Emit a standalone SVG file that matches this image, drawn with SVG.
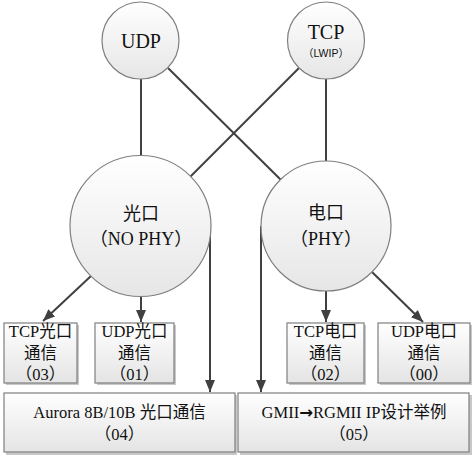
<svg xmlns="http://www.w3.org/2000/svg" width="474" height="457" viewBox="0 0 474 457">
<defs>
<linearGradient id="gc" x1="0" y1="0" x2="0" y2="1">
<stop offset="0" stop-color="#ffffff"/>
<stop offset="1" stop-color="#e6e6e6"/>
</linearGradient>
<linearGradient id="gb" x1="0" y1="0" x2="0" y2="1">
<stop offset="0" stop-color="#ffffff"/>
<stop offset="1" stop-color="#e4e4e4"/>
</linearGradient>
<marker id="ah" viewBox="0 0 12 10" refX="12" refY="5" markerWidth="12" markerHeight="10" markerUnits="userSpaceOnUse" orient="auto">
<path d="M0,0 L12,5 L0,10 Z" fill="#404040"/>
</marker>
</defs>
<style>
.c{fill:url(#gc);stroke:#7f7f7f;stroke-width:1.2}
.b{fill:url(#gb);stroke:#7f7f7f;stroke-width:1.2}
.sh{fill:#c8c8c8}
.l{fill:none;stroke:#404040;stroke-width:2}
.a{fill:none;stroke:#404040;stroke-width:2;marker-end:url(#ah)}
text{font-family:"Liberation Serif","Noto Sans CJK SC",serif;fill:#111;text-anchor:middle}
.r{font-family:"Liberation Serif",serif}
.k{font-family:"Noto Sans CJK SC",sans-serif}
.ar{font-family:"DejaVu Sans",sans-serif;font-weight:bold}
.big{font-size:20px}
.mid{font-size:18px}
.sm{font-size:16.5px}
.lw{font-family:"Liberation Sans","Noto Sans CJK SC",sans-serif;font-size:10.5px}
</style>
<rect width="474" height="457" fill="#ffffff"/>
<g id="connectors">
<line class="l" x1="141" y1="79" x2="141" y2="156"/>
<line class="l" x1="326" y1="79" x2="326" y2="161"/>
<line class="l" x1="168" y1="68" x2="281" y2="180"/>
<line class="l" x1="299" y1="68" x2="190" y2="177"/>
<line class="a" x1="91" y1="276" x2="43" y2="321"/>
<line class="a" x1="141" y1="296" x2="141" y2="322"/>
<line class="a" x1="210" y1="226" x2="210" y2="392"/>
<line class="a" x1="261" y1="226" x2="261" y2="392"/>
<line class="a" x1="326" y1="291" x2="326" y2="322"/>
<line class="a" x1="372" y1="272" x2="423" y2="322"/>
</g>
<g id="udp">
<circle class="c" cx="140.5" cy="40.5" r="38.5"/>
<text class="big" x="141" y="48">UDP</text>
</g>
<g id="tcp">
<circle class="c" cx="326" cy="40.5" r="38.5"/>
<text class="big" x="326" y="39">TCP</text>
<text class="lw" x="326" y="57"><tspan class="k">（</tspan>LWIP<tspan class="k">）</tspan></text>
</g>
<g id="optical">
<circle class="c" cx="140.5" cy="226" r="70.5"/>
<text class="mid" x="141" y="220">光口</text>
<text class="mid" x="141" y="245"><tspan class="k">（</tspan><tspan class="r">NO PHY</tspan><tspan class="k">）</tspan></text>
</g>
<g id="electrical">
<circle class="c" cx="326" cy="226" r="65"/>
<text class="mid" x="326" y="219">电口</text>
<text class="mid" x="326" y="245"><tspan class="k">（</tspan><tspan class="r">PHY</tspan><tspan class="k">）</tspan></text>
</g>
<g id="tcp-opt">
<rect class="sh" x="6" y="325" width="73" height="60"/>
<rect class="b" x="4" y="323" width="73" height="60"/>
<text class="sm" x="40.5" y="337"><tspan class="r">TCP</tspan><tspan class="k">光口</tspan></text>
<text class="sm" x="40.5" y="359">通信</text>
<text class="sm" x="40.5" y="380"><tspan class="k">（</tspan><tspan class="r">03</tspan><tspan class="k">）</tspan></text>
</g>
<g id="udp-opt">
<rect class="sh" x="97" y="325" width="79" height="60"/>
<rect class="b" x="95" y="323" width="79" height="60"/>
<text class="sm" x="134.5" y="337"><tspan class="r">UDP</tspan><tspan class="k">光口</tspan></text>
<text class="sm" x="134.5" y="359">通信</text>
<text class="sm" x="134.5" y="380"><tspan class="k">（</tspan><tspan class="r">01</tspan><tspan class="k">）</tspan></text>
</g>
<g id="tcp-elec">
<rect class="sh" x="289" y="325" width="77" height="60"/>
<rect class="b" x="287" y="323" width="77" height="60"/>
<text class="sm" x="325.5" y="337"><tspan class="r">TCP</tspan><tspan class="k">电口</tspan></text>
<text class="sm" x="325.5" y="359">通信</text>
<text class="sm" x="325.5" y="380"><tspan class="k">（</tspan><tspan class="r">02</tspan><tspan class="k">）</tspan></text>
</g>
<g id="udp-elec">
<rect class="sh" x="380" y="325" width="92" height="60"/>
<rect class="b" x="378" y="323" width="92" height="60"/>
<text class="sm" x="424" y="337"><tspan class="r">UDP</tspan><tspan class="k">电口</tspan></text>
<text class="sm" x="424" y="359">通信</text>
<text class="sm" x="424" y="380"><tspan class="k">（</tspan><tspan class="r">00</tspan><tspan class="k">）</tspan></text>
</g>
<g id="aurora">
<rect class="sh" x="6" y="395" width="231" height="60"/>
<rect class="b" x="4" y="393" width="231" height="59"/>
<text class="sm" x="119.5" y="418"><tspan class="r">Aurora 8B/10B </tspan><tspan class="k">光口通信</tspan></text>
<text class="sm" x="119.5" y="440"><tspan class="k">（</tspan><tspan class="r">04</tspan><tspan class="k">）</tspan></text>
</g>
<g id="gmii">
<rect class="sh" x="240" y="395" width="232" height="60"/>
<rect class="b" x="238" y="393" width="231" height="59"/>
<text class="sm" x="354" y="418"><tspan class="r">GMII</tspan><tspan class="ar">→</tspan><tspan class="r">RGMII IP</tspan><tspan class="k">设计举例</tspan></text>
<text class="sm" x="354" y="440"><tspan class="k">（</tspan><tspan class="r">05</tspan><tspan class="k">）</tspan></text>
</g>
</svg>
